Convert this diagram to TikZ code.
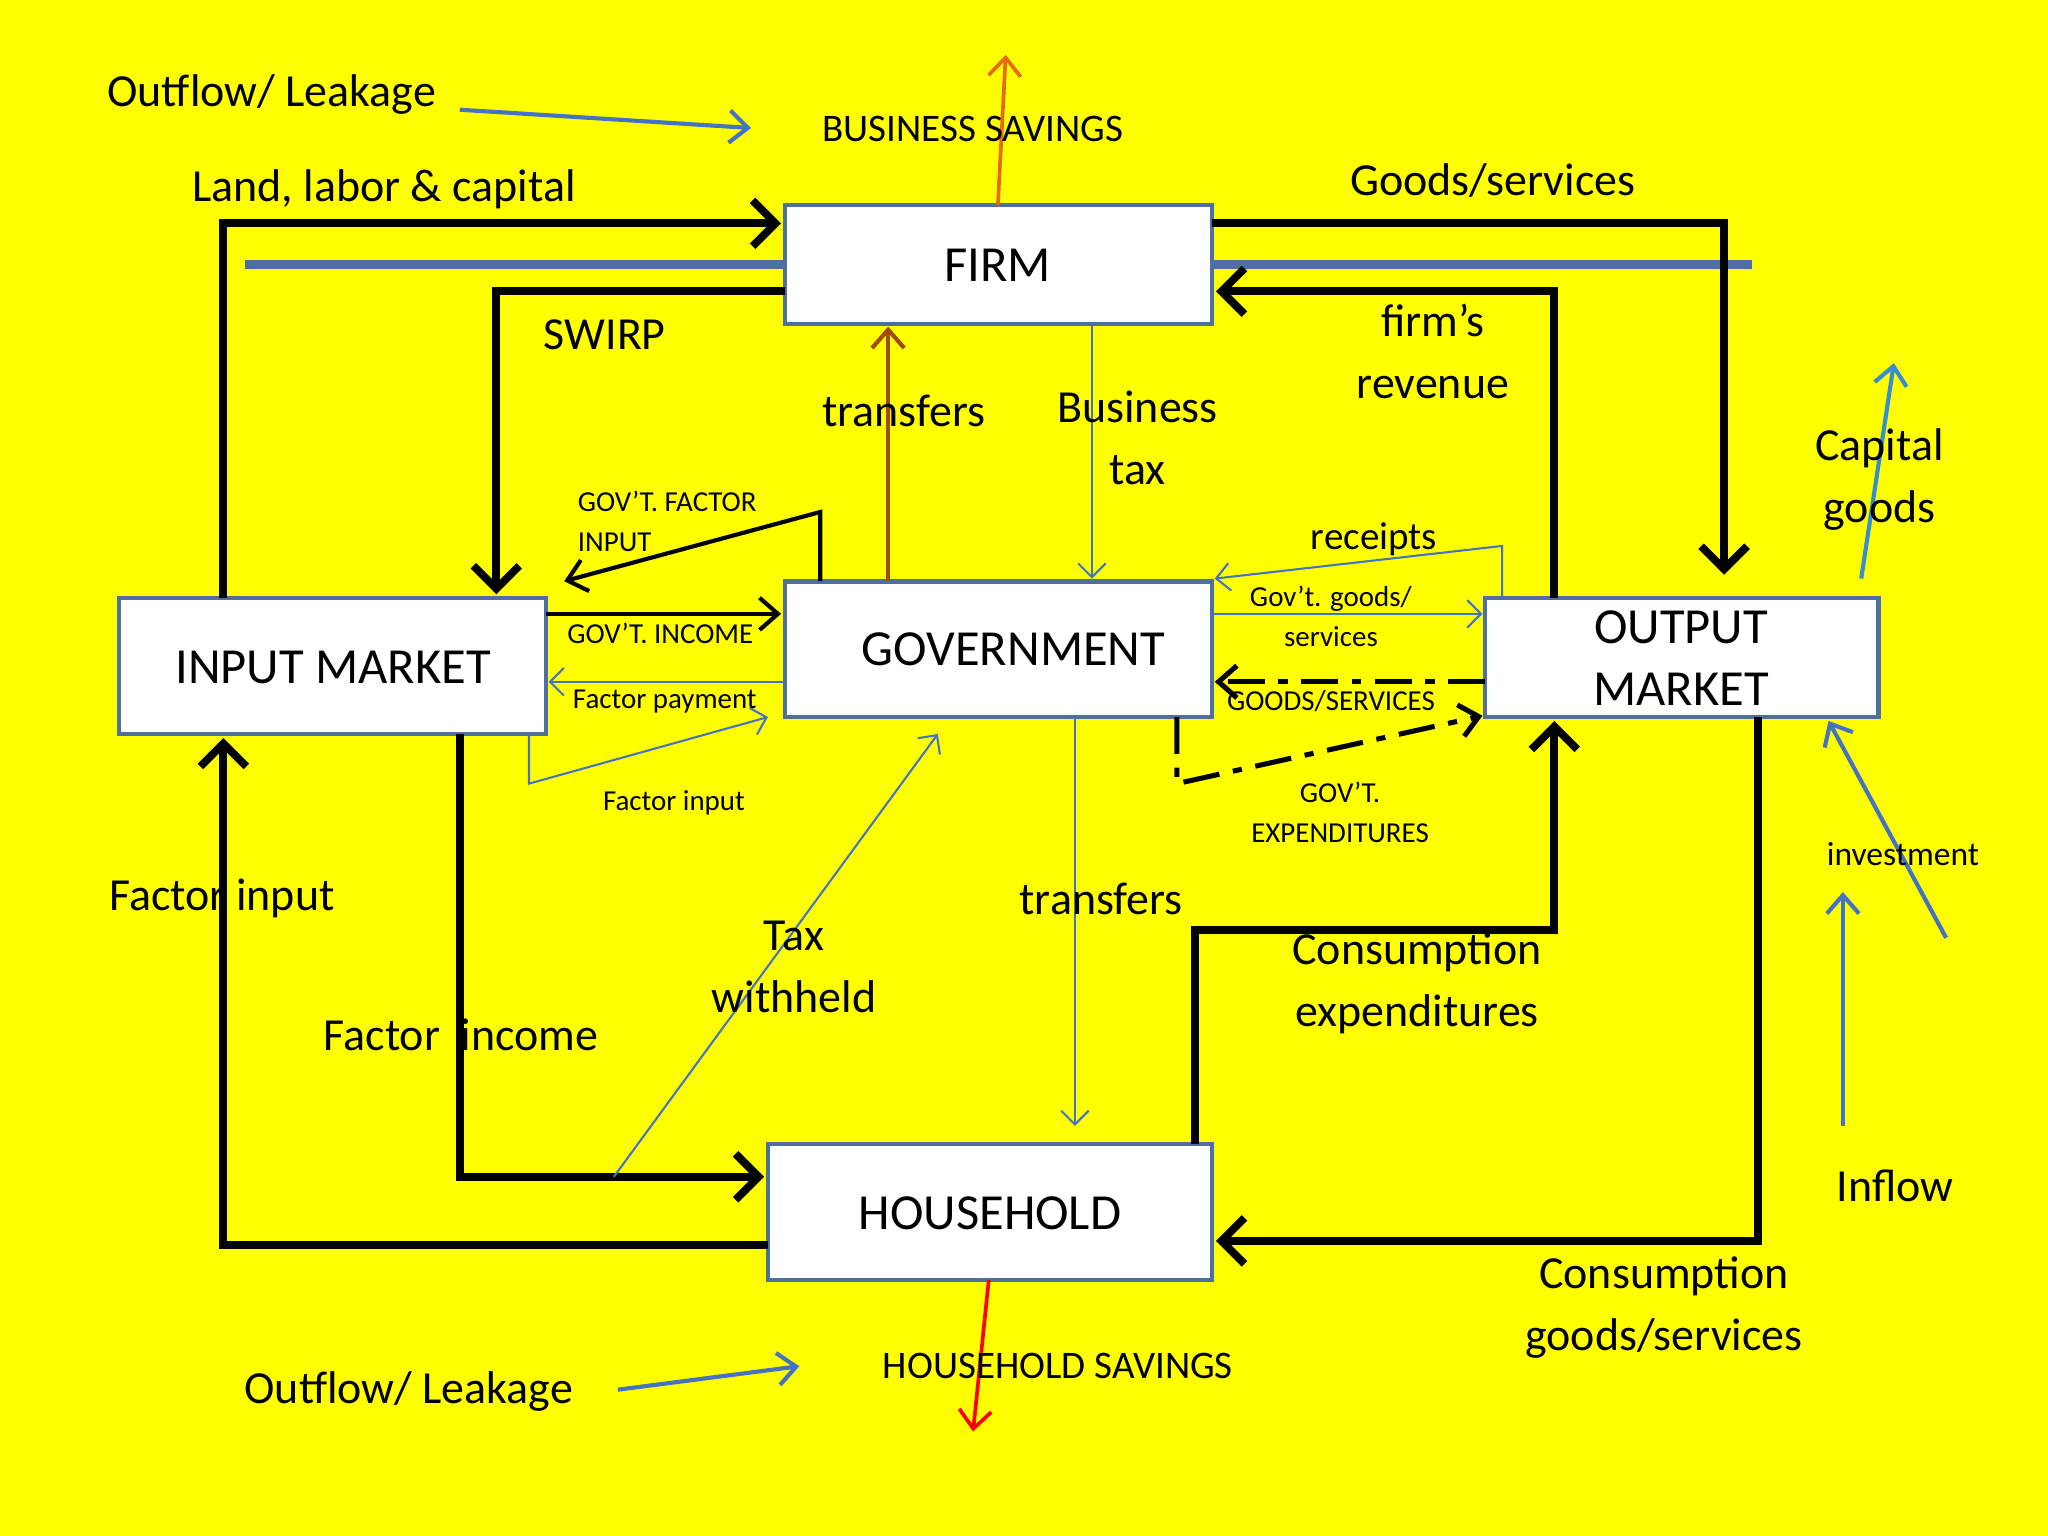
\documentclass[tikz,border=0pt]{standalone}
\usepackage{fontspec}
\setmainfont{Carlito}
\usetikzlibrary{arrows.meta}
\definecolor{bg}{RGB}{255,255,0}
\definecolor{bx}{RGB}{79,111,160}
\definecolor{bl}{RGB}{68,114,196}
\definecolor{brn}{RGB}{160,75,10}
\definecolor{org}{RGB}{228,108,10}
\begin{document}
\begin{tikzpicture}[x=0.01cm,y=-0.01cm,
 box/.style={draw=bx,line width=1pt,fill=white,inner sep=0pt,font=\fontsize{11}{13}\selectfont,align=center},
 thick/.style={line width=1.7pt,-{Straight Barb[length=5pt,width=10pt,line width=1.7pt]}},
 med/.style={line width=0.9pt,-{Straight Barb[length=4pt,width=7pt]}},
 thin/.style={draw=bl,line width=0.45pt,-{Straight Barb[length=3pt,width=6pt]}},
 blu/.style={draw=bl,line width=0.9pt,-{Straight Barb[length=4pt,width=7pt]}},
 L/.style={font=\fontsize{10}{12}\selectfont,align=center},
 M/.style={font=\fontsize{8.5}{10}\selectfont,align=center},
 S/.style={font=\fontsize{6.3}{8.8}\selectfont,align=left}]
\fill[bg] (0,0) rectangle (1568,1176);
\useasboundingbox (0,0) rectangle (1568,1176);
% boxes
\node[box,minimum width=327\pgflinewidth] (firm) at (764.5,202.5) {};
\draw[bx,line width=1pt,fill=white] (601,157) rectangle (928,248);
\node[font=\fontsize{11}{13}\selectfont] (firmT) at (764,203) {FIRM};
\draw[bx,line width=1pt,fill=white] (601,445) rectangle (928,549);
\node[font=\fontsize{11}{13}\selectfont] (gov) at (776,497) {GOVERNMENT};
\draw[bx,line width=1pt,fill=white] (91,458) rectangle (418,562);
\node[font=\fontsize{11}{13}\selectfont] (inp) at (255,511) {INPUT MARKET};
\draw[bx,line width=1pt,fill=white] (1137,458) rectangle (1438,549);
\node[font=\fontsize{11}{13.5}\selectfont,align=center] (out) at (1287,504) {OUTPUT\\MARKET};
\draw[bx,line width=1pt,fill=white] (588,876) rectangle (928,980);
\node[font=\fontsize{11}{13}\selectfont] (hh) at (758,929) {HOUSEHOLD};
% thick flows
\draw[thick] (171,458) -- (171,171) -- (598,171);
\draw[thick] (601,223) -- (380,223) -- (380,455);
\draw[thick] (928,171) -- (1320,171) -- (1320,440);
\draw[thick] (1190,458) -- (1190,223) -- (931,223);
\draw[thick] (352,562) -- (352,901) -- (585,901);
\draw[thick] (588,953) -- (171,953) -- (171,565);
\draw[thick] (915,876) -- (915,712) -- (1190,712) -- (1190,552);
\draw[thick] (1346,549) -- (1346,950) -- (931,950);
\draw[med] (418,470) -- (598,470);
\draw[med] (628,445) -- (628,392) -- (432,445);
\draw[med,dash pattern=on 8pt off 3pt on 2pt off 3pt,line width=1.1pt] (1137,522) -- (930,522);
\draw[med,dash pattern=on 8pt off 3pt on 2pt off 3pt,line width=1.1pt] (901,549) -- (901,600) -- (1135,548);
% blue thin
\draw[thin] (836,248) -- (836,443);
\draw[thin] (1150,458) -- (1150,418) -- (930,443);
\draw[thin] (928,470) -- (1135,470);
\draw[thin] (601,522) -- (420,522);
\draw[thin] (405,562) -- (405,600) -- (588,549);
\draw[thin] (470,901) -- (718,562);
\draw[thin] (823,549) -- (823,862);
\draw[blu] (352,84) -- (575,98);
\draw[blu] (473,1064) -- (612,1046);
\draw[blu,draw=bl!80!cyan] (1425,443) -- (1450,278);
\draw[blu] (1490,718) -- (1400,552);
\draw[blu] (1411,862) -- (1411,683);
% colored
\draw[brn,line width=0.9pt,-{Straight Barb[length=4pt,width=7pt]}] (680,445) -- (680,250);
\draw[org,line width=0.8pt,-{Straight Barb[length=4pt,width=7pt]}] (764,157) -- (770,42);
\draw[red,line width=0.8pt,-{Straight Barb[length=4pt,width=7pt]}] (757,980) -- (745,1096);
% texts
\node[L] (t1) at (208,72) {Outflow/ Leakage};
\node[M] (t2) at (745,99) {BUSINESS SAVINGS};
\node[L] (t3) at (294,145) {Land, labor \& capital};
\node[L] (t4) at (1143,138) {Goods/services};
\node[L] (t5) at (463,256) {SWIRP};
\node[L,font=\fontsize{10}{13.5}\selectfont] (t6) at (1097,269) {firm’s\\revenue};
\node[L] (t7) at (692,315) {transfers};
\node[L,font=\fontsize{10}{13.5}\selectfont] (t8) at (871,335) {Business\\tax};
\node[L,font=\fontsize{10}{13.5}\selectfont] (t9) at (1439,367) {Capital\\goods};
\node[S,anchor=west] (t10) at (430,399) {GOV’T. FACTOR\\INPUT};
\node[M] (t11) at (1052,413) {receipts};
\node[S,align=center] (t12) at (1019,472) {Gov’t. goods/\\services};
\node[S,anchor=west] (t13) at (422,485) {GOV’T. INCOME};
\node[S] (t14) at (509,537) {Factor payment};
\node[S] (t15) at (1019,537) {GOODS/SERVICES};
\node[S,align=center] (t16) at (1026,622) {GOV’T.\\EXPENDITURES};
\node[S] (t17) at (516,615) {Factor input};
\node[M,font=\fontsize{7.3}{9}\selectfont] (t18) at (1457,654) {investment};
\node[L] (t19) at (170,688) {Factor input};
\node[L] (t20) at (843,688) {transfers};
\node[L,font=\fontsize{10}{13.5}\selectfont] (t21) at (608,740) {Tax\\withheld};
\node[L,font=\fontsize{10}{13.5}\selectfont] (t22) at (1085,753) {Consumption\\expenditures};
\node[L] (t23) at (353,792) {Factor \ income};
\node[L] (t24) at (1451,908) {Inflow};
\node[L,font=\fontsize{10}{13.5}\selectfont] (t25) at (1274,1001) {Consumption\\goods/services};
\node[L] (t26) at (313,1065) {Outflow/ Leakage};
\node[M] (t27) at (810,1046) {HOUSEHOLD SAVINGS};
\end{tikzpicture}
\end{document}
